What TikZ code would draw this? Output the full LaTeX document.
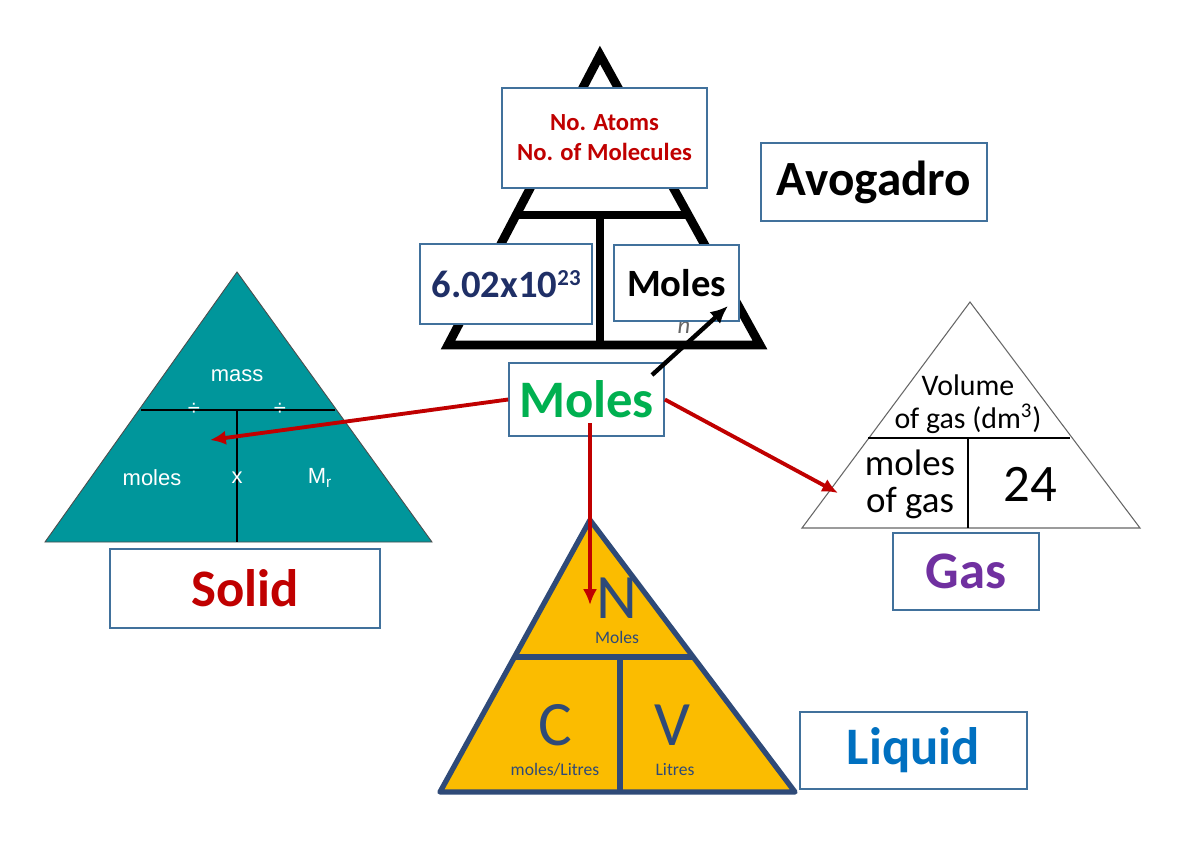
\documentclass[tikz,border=0pt]{standalone}
\usepackage{fontspec}
\setmainfont{Carlito}
\newfontfamily\arialf{Liberation Sans}
\usetikzlibrary{arrows.meta}
\begin{document}
\begin{tikzpicture}[x=0.02cm,y=-0.02cm,
 bx/.style={draw=boxblue,line width=1pt,fill=white,inner sep=0pt},
 redarr/.style={draw=arrred,line width=2.2pt,-{Latex[length=9pt,width=8pt]}},
 tt/.style={text=white,font=\arialf\fontsize{12.5}{14}\selectfont}]
\definecolor{boxblue}{HTML}{41719C}
\definecolor{arrred}{HTML}{C00000}
\definecolor{teal1}{HTML}{00969B}
\definecolor{gold}{HTML}{FBBC00}
\definecolor{navy}{HTML}{2F4A78}
\definecolor{dnavy}{HTML}{1F2F66}
\useasboundingbox (0,0) rectangle (1200,849);
\fill[white] (0,0) rectangle (1200,849);
% solid triangle
\fill[teal1,draw=black!70,line width=0.5pt] (237,272) -- (432,542) -- (45,542) -- cycle;
\draw[black,line width=0.6pt] (141,410) -- (335,410) (237,410) -- (237,542);
\node[tt] (mass) at (237,376) {mass};
\node[tt] (d1) at (194,409) {÷};
\node[tt] (d2) at (280,409) {÷};
\node[tt] (mol) at (152,478) {moles};
\node[tt] (x) at (237,478) {x};
\node[tt] (mr) at (320,478) {M\textsubscript{r}};
% gas triangle
\draw[black!60,line width=0.6pt] (970,302) -- (1140,528) -- (802,528) -- cycle;
\draw[black,line width=0.8pt] (868,438) -- (1070,438) (968,438) -- (968,528);
\node[align=center,font=\fontsize{17}{19}\selectfont] (vol) at (968,404) {Volume\\of gas (dm\textsuperscript{3})};
\node[align=center,font=\fontsize{21}{21}\selectfont] (mg) at (910,484) {moles\\of gas};
\node[font=\fontsize{30}{30}\selectfont] (n24) at (1030,484) {24};
% liquid triangle
\draw[navy,fill=gold,line width=3pt,line join=round] (590,520) -- (795,792) -- (440,792) -- cycle;
\draw[navy,line width=3pt] (514,657) -- (693,657) (620,657) -- (620,792);
\node[text=navy,font=\fontsize{36}{36}\selectfont] (N) at (617,598) {N};
\node[text=navy,font=\fontsize{10}{10}\selectfont] (Nm) at (617,637) {Moles};
\node[text=navy,font=\fontsize{36}{36}\selectfont] (C) at (555,725) {C};
\node[text=navy,font=\fontsize{10}{10}\selectfont] (Cm) at (555,770) {moles/Litres};
\node[text=navy,font=\fontsize{36}{36}\selectfont] (V) at (672,725) {V};
\node[text=navy,font=\fontsize{10}{10}\selectfont] (Vm) at (675,770) {Litres};
% black triangle
\draw[black,line width=5pt,line join=miter] (600,55) -- (760,345) -- (448,345) -- cycle;
\draw[black,line width=5pt] (516,215) -- (688,215) (600,215) -- (600,345);
\node[font=\itshape\fontsize{14}{14}\selectfont,text=black!60,inner sep=0pt] (nn) at (684,328) {n};
% boxes
\node[bx,minimum width=4.1cm,minimum height=2cm,align=center,text=arrred,font=\bfseries\fontsize{14}{17}\selectfont] (atoms) at (604.5,138) {No. Atoms\\No. of Molecules};
\node[bx,minimum width=3.44cm,minimum height=1.6cm,text=dnavy,font=\bfseries\fontsize{22}{22}\selectfont] (avn) at (506,284) {6.02x10{\fontsize{13}{13}\selectfont\raisebox{0.5em}{23}}};
\node[bx,minimum width=2.5cm,minimum height=1.52cm,font=\bfseries\fontsize{22}{22}\selectfont] (m1) at (676.5,283) {Moles};
\node[bx,minimum width=4.52cm,minimum height=1.56cm,font=\bfseries\fontsize{28}{28}\selectfont] (avo) at (874,182) {Avogadro};
\node[bx,minimum width=3.1cm,minimum height=1.46cm,text={rgb,255:red,0;green,176;blue,80},font=\bfseries\fontsize{30}{30}\selectfont] (m2) at (586.5,399.5) {Moles};
\node[bx,minimum width=5.4cm,minimum height=1.58cm,text=arrred,font=\bfseries\fontsize{30}{30}\selectfont] (solid) at (245,588.5) {Solid};
\node[bx,minimum width=2.92cm,minimum height=1.54cm,text={rgb,255:red,112;green,48;blue,160},font=\bfseries\fontsize{30}{30}\selectfont] (gas) at (966,571.5) {Gas};
\node[bx,minimum width=4.54cm,minimum height=1.54cm,text={rgb,255:red,0;green,112;blue,192},font=\bfseries\fontsize{30}{30}\selectfont] (liq) at (913.5,750.5) {Liquid};
% arrows
\coordinate (tS) at (210,440);
\coordinate (tL) at (590,605);
\coordinate (tG) at (838,493);
\coordinate (sL) at (590,423);
\coordinate (sB) at (652,375);
\coordinate (tB) at (728,306);
\draw[redarr] (m2.west) -- (tS);
\draw[redarr] (sL) -- (tL);
\draw[redarr] (m2.east) -- (tG);
\draw[black,line width=2.5pt,-{Latex[length=10pt,width=9pt]}] (sB) -- (tB);
\end{tikzpicture}
\end{document}
